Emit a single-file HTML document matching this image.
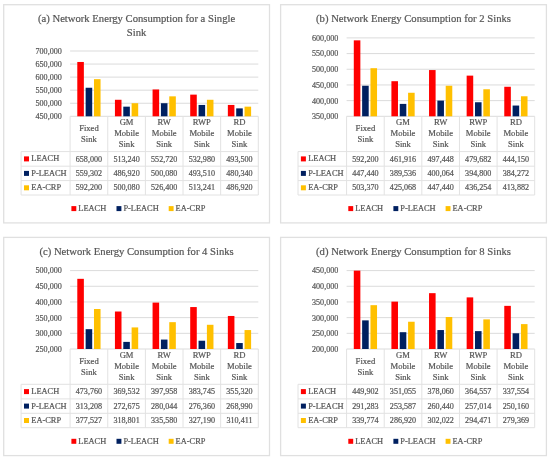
<!DOCTYPE html>
<html><head><meta charset="utf-8"><title>Network Energy Consumption</title>
<style>
html,body{margin:0;padding:0;background:#fff;}
svg{display:block;filter:blur(0.3px);font-family:"Liberation Serif",serif;}
text{fill:#555;stroke:#555;stroke-width:.2px;}
.t{font-size:10.65px;text-anchor:middle;}
.y{font-size:8.1px;text-anchor:end;}
.k{font-size:8.6px;text-anchor:middle;}
.n{font-size:8.1px;text-anchor:middle;}
.l{font-size:8.4px;}
.ln{stroke:#DBDBDB;stroke-width:1;fill:none;}
.tb{stroke:#E2E2E2;stroke-width:1;fill:none;}
.fr{stroke:#E0E0E0;stroke-width:1.3;fill:#fff;}
</style></head><body>
<svg width="550" height="458" viewBox="0 0 550 458">
<rect x="0" y="0" width="550" height="458" fill="#ffffff"/>

<rect class="fr" x="3.7" y="4.7" width="265.8" height="218.2"/>
<text class="t" x="136.6" y="22">(a) Network Energy Consumption for a Single</text>
<text class="t" x="136.6" y="36">Sink</text>
<path class="ln" d="M70.1 51L258.3 51"/>
<text class="y" x="61.8" y="54">700,000</text>
<path class="ln" d="M70.1 64.06L258.3 64.06"/>
<text class="y" x="61.8" y="67">650,000</text>
<path class="ln" d="M70.1 77.12L258.3 77.12"/>
<text class="y" x="61.8" y="80">600,000</text>
<path class="ln" d="M70.1 90.18L258.3 90.18"/>
<text class="y" x="61.8" y="93">550,000</text>
<path class="ln" d="M70.1 103.24L258.3 103.24"/>
<text class="y" x="61.8" y="106">500,000</text>
<path class="ln" d="M70.1 116.3L258.3 116.3"/>
<text class="y" x="61.8" y="119">450,000</text>
<rect x="77.29" y="61.97" width="6.57" height="54.33" fill="#FF0000"/>
<rect x="85.64" y="87.75" width="6.57" height="28.55" fill="#002060"/>
<rect x="93.98" y="79.16" width="6.57" height="37.14" fill="#FFC000"/>
<rect x="114.93" y="99.78" width="6.57" height="16.52" fill="#FF0000"/>
<rect x="123.28" y="106.66" width="6.57" height="9.64" fill="#002060"/>
<rect x="131.62" y="103.22" width="6.57" height="13.08" fill="#FFC000"/>
<rect x="152.57" y="89.47" width="6.57" height="26.83" fill="#FF0000"/>
<rect x="160.92" y="103.22" width="6.57" height="13.08" fill="#002060"/>
<rect x="169.26" y="96.34" width="6.57" height="19.96" fill="#FFC000"/>
<rect x="190.21" y="94.63" width="6.57" height="21.67" fill="#FF0000"/>
<rect x="198.56" y="104.94" width="6.57" height="11.36" fill="#002060"/>
<rect x="206.9" y="99.78" width="6.57" height="16.52" fill="#FFC000"/>
<rect x="227.85" y="104.94" width="6.57" height="11.36" fill="#FF0000"/>
<rect x="236.2" y="108.38" width="6.57" height="7.92" fill="#002060"/>
<rect x="244.54" y="106.66" width="6.57" height="9.64" fill="#FFC000"/>
<path class="tb" d="M70.1 116.3L70.1 195"/>
<path class="tb" d="M107.74 116.3L107.74 195"/>
<path class="tb" d="M145.38 116.3L145.38 195"/>
<path class="tb" d="M183.02 116.3L183.02 195"/>
<path class="tb" d="M220.66 116.3L220.66 195"/>
<path class="tb" d="M258.3 116.3L258.3 195"/>
<path class="tb" d="M21.1 151.6L21.1 195"/>
<path class="tb" d="M21.1 151.6L258.3 151.6"/>
<path class="tb" d="M21.1 166.2L258.3 166.2"/>
<path class="tb" d="M21.1 180.6L258.3 180.6"/>
<path class="tb" d="M21.1 195L258.3 195"/>
<text class="k" x="88.92" y="131">Fixed</text>
<text class="k" x="88.92" y="142">Sink</text>
<text class="k" x="126.56" y="125">GM</text>
<text class="k" x="126.56" y="136">Mobile</text>
<text class="k" x="126.56" y="147">Sink</text>
<text class="k" x="164.2" y="125">RW</text>
<text class="k" x="164.2" y="136">Mobile</text>
<text class="k" x="164.2" y="147">Sink</text>
<text class="k" x="201.84" y="125">RWP</text>
<text class="k" x="201.84" y="136">Mobile</text>
<text class="k" x="201.84" y="147">Sink</text>
<text class="k" x="239.48" y="125">RD</text>
<text class="k" x="239.48" y="136">Mobile</text>
<text class="k" x="239.48" y="147">Sink</text>
<rect x="24" y="156.4" width="5" height="5" fill="#FF0000"/>
<text class="l" x="31.3" y="161">LEACH</text>
<text class="n" x="88.92" y="162">658,000</text>
<text class="n" x="126.56" y="162">513,240</text>
<text class="n" x="164.2" y="162">552,720</text>
<text class="n" x="201.84" y="162">532,980</text>
<text class="n" x="239.48" y="162">493,500</text>
<rect x="24" y="170.9" width="5" height="5" fill="#002060"/>
<text class="l" x="31.3" y="176">P-LEACH</text>
<text class="n" x="88.92" y="176">559,302</text>
<text class="n" x="126.56" y="176">486,920</text>
<text class="n" x="164.2" y="176">500,080</text>
<text class="n" x="201.84" y="176">493,510</text>
<text class="n" x="239.48" y="176">480,340</text>
<rect x="24" y="185.3" width="5" height="5" fill="#FFC000"/>
<text class="l" x="31.3" y="190">EA-CRP</text>
<text class="n" x="88.92" y="190">592,200</text>
<text class="n" x="126.56" y="190">500,080</text>
<text class="n" x="164.2" y="190">526,400</text>
<text class="n" x="201.84" y="190">513,241</text>
<text class="n" x="239.48" y="190">486,920</text>
<rect x="71.4" y="206.1" width="4.9" height="5" fill="#FF0000"/>
<text class="l" x="78.3" y="211">LEACH</text>
<rect x="116.5" y="206.1" width="4.9" height="5" fill="#002060"/>
<text class="l" x="123.4" y="211">P-LEACH</text>
<rect x="168.7" y="206.1" width="4.9" height="5" fill="#FFC000"/>
<text class="l" x="175.6" y="211">EA-CRP</text>
<rect class="fr" x="280.6" y="4.7" width="265.8" height="218.2"/>
<text class="t" x="413.5" y="22">(b) Network Energy Consumption for 2 Sinks</text>
<path class="ln" d="M346.6 37.9L534.7 37.9"/>
<text class="y" x="338.3" y="41">600,000</text>
<path class="ln" d="M346.6 53.58L534.7 53.58"/>
<text class="y" x="338.3" y="56">550,000</text>
<path class="ln" d="M346.6 69.26L534.7 69.26"/>
<text class="y" x="338.3" y="72">500,000</text>
<path class="ln" d="M346.6 84.94L534.7 84.94"/>
<text class="y" x="338.3" y="88">450,000</text>
<path class="ln" d="M346.6 100.62L534.7 100.62"/>
<text class="y" x="338.3" y="104">400,000</text>
<path class="ln" d="M346.6 116.3L534.7 116.3"/>
<text class="y" x="338.3" y="119">350,000</text>
<rect x="353.79" y="40.35" width="6.57" height="75.95" fill="#FF0000"/>
<rect x="362.13" y="85.74" width="6.57" height="30.56" fill="#002060"/>
<rect x="370.47" y="68.2" width="6.57" height="48.1" fill="#FFC000"/>
<rect x="391.41" y="81.2" width="6.57" height="35.1" fill="#FF0000"/>
<rect x="399.75" y="103.9" width="6.57" height="12.4" fill="#002060"/>
<rect x="408.09" y="92.76" width="6.57" height="23.54" fill="#FFC000"/>
<rect x="429.03" y="70.06" width="6.57" height="46.24" fill="#FF0000"/>
<rect x="437.37" y="100.6" width="6.57" height="15.7" fill="#002060"/>
<rect x="445.71" y="85.74" width="6.57" height="30.56" fill="#FFC000"/>
<rect x="466.65" y="75.63" width="6.57" height="40.67" fill="#FF0000"/>
<rect x="474.99" y="102.25" width="6.57" height="14.05" fill="#002060"/>
<rect x="483.33" y="89.25" width="6.57" height="27.05" fill="#FFC000"/>
<rect x="504.27" y="86.77" width="6.57" height="29.53" fill="#FF0000"/>
<rect x="512.61" y="105.55" width="6.57" height="10.75" fill="#002060"/>
<rect x="520.95" y="96.27" width="6.57" height="20.03" fill="#FFC000"/>
<path class="tb" d="M346.6 116.3L346.6 195"/>
<path class="tb" d="M384.22 116.3L384.22 195"/>
<path class="tb" d="M421.84 116.3L421.84 195"/>
<path class="tb" d="M459.46 116.3L459.46 195"/>
<path class="tb" d="M497.08 116.3L497.08 195"/>
<path class="tb" d="M534.7 116.3L534.7 195"/>
<path class="tb" d="M298 151.6L298 195"/>
<path class="tb" d="M298 151.6L534.7 151.6"/>
<path class="tb" d="M298 166.2L534.7 166.2"/>
<path class="tb" d="M298 180.6L534.7 180.6"/>
<path class="tb" d="M298 195L534.7 195"/>
<text class="k" x="365.41" y="131">Fixed</text>
<text class="k" x="365.41" y="142">Sink</text>
<text class="k" x="403.03" y="125">GM</text>
<text class="k" x="403.03" y="136">Mobile</text>
<text class="k" x="403.03" y="147">Sink</text>
<text class="k" x="440.65" y="125">RW</text>
<text class="k" x="440.65" y="136">Mobile</text>
<text class="k" x="440.65" y="147">Sink</text>
<text class="k" x="478.27" y="125">RWP</text>
<text class="k" x="478.27" y="136">Mobile</text>
<text class="k" x="478.27" y="147">Sink</text>
<text class="k" x="515.89" y="125">RD</text>
<text class="k" x="515.89" y="136">Mobile</text>
<text class="k" x="515.89" y="147">Sink</text>
<rect x="300.9" y="156.4" width="5" height="5" fill="#FF0000"/>
<text class="l" x="308.2" y="161">LEACH</text>
<text class="n" x="365.41" y="162">592,200</text>
<text class="n" x="403.03" y="162">461,916</text>
<text class="n" x="440.65" y="162">497,448</text>
<text class="n" x="478.27" y="162">479,682</text>
<text class="n" x="515.89" y="162">444,150</text>
<rect x="300.9" y="170.9" width="5" height="5" fill="#002060"/>
<text class="l" x="308.2" y="176">P-LEACH</text>
<text class="n" x="365.41" y="176">447,440</text>
<text class="n" x="403.03" y="176">389,536</text>
<text class="n" x="440.65" y="176">400,064</text>
<text class="n" x="478.27" y="176">394,800</text>
<text class="n" x="515.89" y="176">384,272</text>
<rect x="300.9" y="185.3" width="5" height="5" fill="#FFC000"/>
<text class="l" x="308.2" y="190">EA-CRP</text>
<text class="n" x="365.41" y="190">503,370</text>
<text class="n" x="403.03" y="190">425,068</text>
<text class="n" x="440.65" y="190">447,440</text>
<text class="n" x="478.27" y="190">436,254</text>
<text class="n" x="515.89" y="190">413,882</text>
<rect x="348.3" y="206.1" width="4.9" height="5" fill="#FF0000"/>
<text class="l" x="355.2" y="211">LEACH</text>
<rect x="393.4" y="206.1" width="4.9" height="5" fill="#002060"/>
<text class="l" x="400.3" y="211">P-LEACH</text>
<rect x="445.6" y="206.1" width="4.9" height="5" fill="#FFC000"/>
<text class="l" x="452.5" y="211">EA-CRP</text>
<rect class="fr" x="3.7" y="237.4" width="265.8" height="218.2"/>
<text class="t" x="136.6" y="255">(c) Network Energy Consumption for 4 Sinks</text>
<path class="ln" d="M70.1 270.6L258.3 270.6"/>
<text class="y" x="61.8" y="273">500,000</text>
<path class="ln" d="M70.1 286.28L258.3 286.28"/>
<text class="y" x="61.8" y="289">450,000</text>
<path class="ln" d="M70.1 301.96L258.3 301.96"/>
<text class="y" x="61.8" y="305">400,000</text>
<path class="ln" d="M70.1 317.64L258.3 317.64"/>
<text class="y" x="61.8" y="321">350,000</text>
<path class="ln" d="M70.1 333.32L258.3 333.32"/>
<text class="y" x="61.8" y="336">300,000</text>
<path class="ln" d="M70.1 349L258.3 349"/>
<text class="y" x="61.8" y="352">250,000</text>
<rect x="77.29" y="278.83" width="6.57" height="70.17" fill="#FF0000"/>
<rect x="85.64" y="329.18" width="6.57" height="19.82" fill="#002060"/>
<rect x="93.98" y="309.01" width="6.57" height="39.99" fill="#FFC000"/>
<rect x="114.93" y="311.51" width="6.57" height="37.49" fill="#FF0000"/>
<rect x="123.28" y="341.89" width="6.57" height="7.11" fill="#002060"/>
<rect x="131.62" y="327.42" width="6.57" height="21.58" fill="#FFC000"/>
<rect x="152.57" y="302.6" width="6.57" height="46.4" fill="#FF0000"/>
<rect x="160.92" y="339.58" width="6.57" height="9.42" fill="#002060"/>
<rect x="169.26" y="322.16" width="6.57" height="26.84" fill="#FFC000"/>
<rect x="190.21" y="307.06" width="6.57" height="41.94" fill="#FF0000"/>
<rect x="198.56" y="340.73" width="6.57" height="8.27" fill="#002060"/>
<rect x="206.9" y="324.79" width="6.57" height="24.21" fill="#FFC000"/>
<rect x="227.85" y="315.97" width="6.57" height="33.03" fill="#FF0000"/>
<rect x="236.2" y="343.04" width="6.57" height="5.96" fill="#002060"/>
<rect x="244.54" y="330.06" width="6.57" height="18.94" fill="#FFC000"/>
<path class="tb" d="M70.1 349L70.1 427.7"/>
<path class="tb" d="M107.74 349L107.74 427.7"/>
<path class="tb" d="M145.38 349L145.38 427.7"/>
<path class="tb" d="M183.02 349L183.02 427.7"/>
<path class="tb" d="M220.66 349L220.66 427.7"/>
<path class="tb" d="M258.3 349L258.3 427.7"/>
<path class="tb" d="M21.1 384.3L21.1 427.7"/>
<path class="tb" d="M21.1 384.3L258.3 384.3"/>
<path class="tb" d="M21.1 398.9L258.3 398.9"/>
<path class="tb" d="M21.1 413.3L258.3 413.3"/>
<path class="tb" d="M21.1 427.7L258.3 427.7"/>
<text class="k" x="88.92" y="364">Fixed</text>
<text class="k" x="88.92" y="375">Sink</text>
<text class="k" x="126.56" y="358">GM</text>
<text class="k" x="126.56" y="369">Mobile</text>
<text class="k" x="126.56" y="380">Sink</text>
<text class="k" x="164.2" y="358">RW</text>
<text class="k" x="164.2" y="369">Mobile</text>
<text class="k" x="164.2" y="380">Sink</text>
<text class="k" x="201.84" y="358">RWP</text>
<text class="k" x="201.84" y="369">Mobile</text>
<text class="k" x="201.84" y="380">Sink</text>
<text class="k" x="239.48" y="358">RD</text>
<text class="k" x="239.48" y="369">Mobile</text>
<text class="k" x="239.48" y="380">Sink</text>
<rect x="24" y="389.1" width="5" height="5" fill="#FF0000"/>
<text class="l" x="31.3" y="394">LEACH</text>
<text class="n" x="88.92" y="394">473,760</text>
<text class="n" x="126.56" y="394">369,532</text>
<text class="n" x="164.2" y="394">397,958</text>
<text class="n" x="201.84" y="394">383,745</text>
<text class="n" x="239.48" y="394">355,320</text>
<rect x="24" y="403.6" width="5" height="5" fill="#002060"/>
<text class="l" x="31.3" y="409">P-LEACH</text>
<text class="n" x="88.92" y="409">313,208</text>
<text class="n" x="126.56" y="409">272,675</text>
<text class="n" x="164.2" y="409">280,044</text>
<text class="n" x="201.84" y="409">276,360</text>
<text class="n" x="239.48" y="409">268,990</text>
<rect x="24" y="418" width="5" height="5" fill="#FFC000"/>
<text class="l" x="31.3" y="423">EA-CRP</text>
<text class="n" x="88.92" y="423">377,527</text>
<text class="n" x="126.56" y="423">318,801</text>
<text class="n" x="164.2" y="423">335,580</text>
<text class="n" x="201.84" y="423">327,190</text>
<text class="n" x="239.48" y="423">310,411</text>
<rect x="71.4" y="438.8" width="4.9" height="5" fill="#FF0000"/>
<text class="l" x="78.3" y="444">LEACH</text>
<rect x="116.5" y="438.8" width="4.9" height="5" fill="#002060"/>
<text class="l" x="123.4" y="444">P-LEACH</text>
<rect x="168.7" y="438.8" width="4.9" height="5" fill="#FFC000"/>
<text class="l" x="175.6" y="444">EA-CRP</text>
<rect class="fr" x="280.6" y="237.4" width="265.8" height="218.2"/>
<text class="t" x="413.5" y="255">(d) Network Energy Consumption for 8 Sinks</text>
<path class="ln" d="M346.6 270.6L534.7 270.6"/>
<text class="y" x="338.3" y="273">450,000</text>
<path class="ln" d="M346.6 286.28L534.7 286.28"/>
<text class="y" x="338.3" y="289">400,000</text>
<path class="ln" d="M346.6 301.96L534.7 301.96"/>
<text class="y" x="338.3" y="305">350,000</text>
<path class="ln" d="M346.6 317.64L534.7 317.64"/>
<text class="y" x="338.3" y="321">300,000</text>
<path class="ln" d="M346.6 333.32L534.7 333.32"/>
<text class="y" x="338.3" y="336">250,000</text>
<path class="ln" d="M346.6 349L534.7 349"/>
<text class="y" x="338.3" y="352">200,000</text>
<rect x="353.79" y="270.63" width="6.57" height="78.37" fill="#FF0000"/>
<rect x="362.13" y="320.37" width="6.57" height="28.63" fill="#002060"/>
<rect x="370.47" y="305.17" width="6.57" height="43.83" fill="#FFC000"/>
<rect x="391.41" y="301.63" width="6.57" height="47.37" fill="#FF0000"/>
<rect x="399.75" y="332.2" width="6.57" height="16.8" fill="#002060"/>
<rect x="408.09" y="321.74" width="6.57" height="27.26" fill="#FFC000"/>
<rect x="429.03" y="293.16" width="6.57" height="55.84" fill="#FF0000"/>
<rect x="437.37" y="330.05" width="6.57" height="18.95" fill="#002060"/>
<rect x="445.71" y="317.01" width="6.57" height="31.99" fill="#FFC000"/>
<rect x="466.65" y="297.39" width="6.57" height="51.61" fill="#FF0000"/>
<rect x="474.99" y="331.12" width="6.57" height="17.88" fill="#002060"/>
<rect x="483.33" y="319.37" width="6.57" height="29.63" fill="#FFC000"/>
<rect x="504.27" y="305.86" width="6.57" height="43.14" fill="#FF0000"/>
<rect x="512.61" y="333.27" width="6.57" height="15.73" fill="#002060"/>
<rect x="520.95" y="324.11" width="6.57" height="24.89" fill="#FFC000"/>
<path class="tb" d="M346.6 349L346.6 427.7"/>
<path class="tb" d="M384.22 349L384.22 427.7"/>
<path class="tb" d="M421.84 349L421.84 427.7"/>
<path class="tb" d="M459.46 349L459.46 427.7"/>
<path class="tb" d="M497.08 349L497.08 427.7"/>
<path class="tb" d="M534.7 349L534.7 427.7"/>
<path class="tb" d="M298 384.3L298 427.7"/>
<path class="tb" d="M298 384.3L534.7 384.3"/>
<path class="tb" d="M298 398.9L534.7 398.9"/>
<path class="tb" d="M298 413.3L534.7 413.3"/>
<path class="tb" d="M298 427.7L534.7 427.7"/>
<text class="k" x="365.41" y="364">Fixed</text>
<text class="k" x="365.41" y="375">Sink</text>
<text class="k" x="403.03" y="358">GM</text>
<text class="k" x="403.03" y="369">Mobile</text>
<text class="k" x="403.03" y="380">Sink</text>
<text class="k" x="440.65" y="358">RW</text>
<text class="k" x="440.65" y="369">Mobile</text>
<text class="k" x="440.65" y="380">Sink</text>
<text class="k" x="478.27" y="358">RWP</text>
<text class="k" x="478.27" y="369">Mobile</text>
<text class="k" x="478.27" y="380">Sink</text>
<text class="k" x="515.89" y="358">RD</text>
<text class="k" x="515.89" y="369">Mobile</text>
<text class="k" x="515.89" y="380">Sink</text>
<rect x="300.9" y="389.1" width="5" height="5" fill="#FF0000"/>
<text class="l" x="308.2" y="394">LEACH</text>
<text class="n" x="365.41" y="394">449,902</text>
<text class="n" x="403.03" y="394">351,055</text>
<text class="n" x="440.65" y="394">378,060</text>
<text class="n" x="478.27" y="394">364,557</text>
<text class="n" x="515.89" y="394">337,554</text>
<rect x="300.9" y="403.6" width="5" height="5" fill="#002060"/>
<text class="l" x="308.2" y="409">P-LEACH</text>
<text class="n" x="365.41" y="409">291,283</text>
<text class="n" x="403.03" y="409">253,587</text>
<text class="n" x="440.65" y="409">260,440</text>
<text class="n" x="478.27" y="409">257,014</text>
<text class="n" x="515.89" y="409">250,160</text>
<rect x="300.9" y="418" width="5" height="5" fill="#FFC000"/>
<text class="l" x="308.2" y="423">EA-CRP</text>
<text class="n" x="365.41" y="423">339,774</text>
<text class="n" x="403.03" y="423">286,920</text>
<text class="n" x="440.65" y="423">302,022</text>
<text class="n" x="478.27" y="423">294,471</text>
<text class="n" x="515.89" y="423">279,369</text>
<rect x="348.3" y="438.8" width="4.9" height="5" fill="#FF0000"/>
<text class="l" x="355.2" y="444">LEACH</text>
<rect x="393.4" y="438.8" width="4.9" height="5" fill="#002060"/>
<text class="l" x="400.3" y="444">P-LEACH</text>
<rect x="445.6" y="438.8" width="4.9" height="5" fill="#FFC000"/>
<text class="l" x="452.5" y="444">EA-CRP</text>
</svg></body></html>
